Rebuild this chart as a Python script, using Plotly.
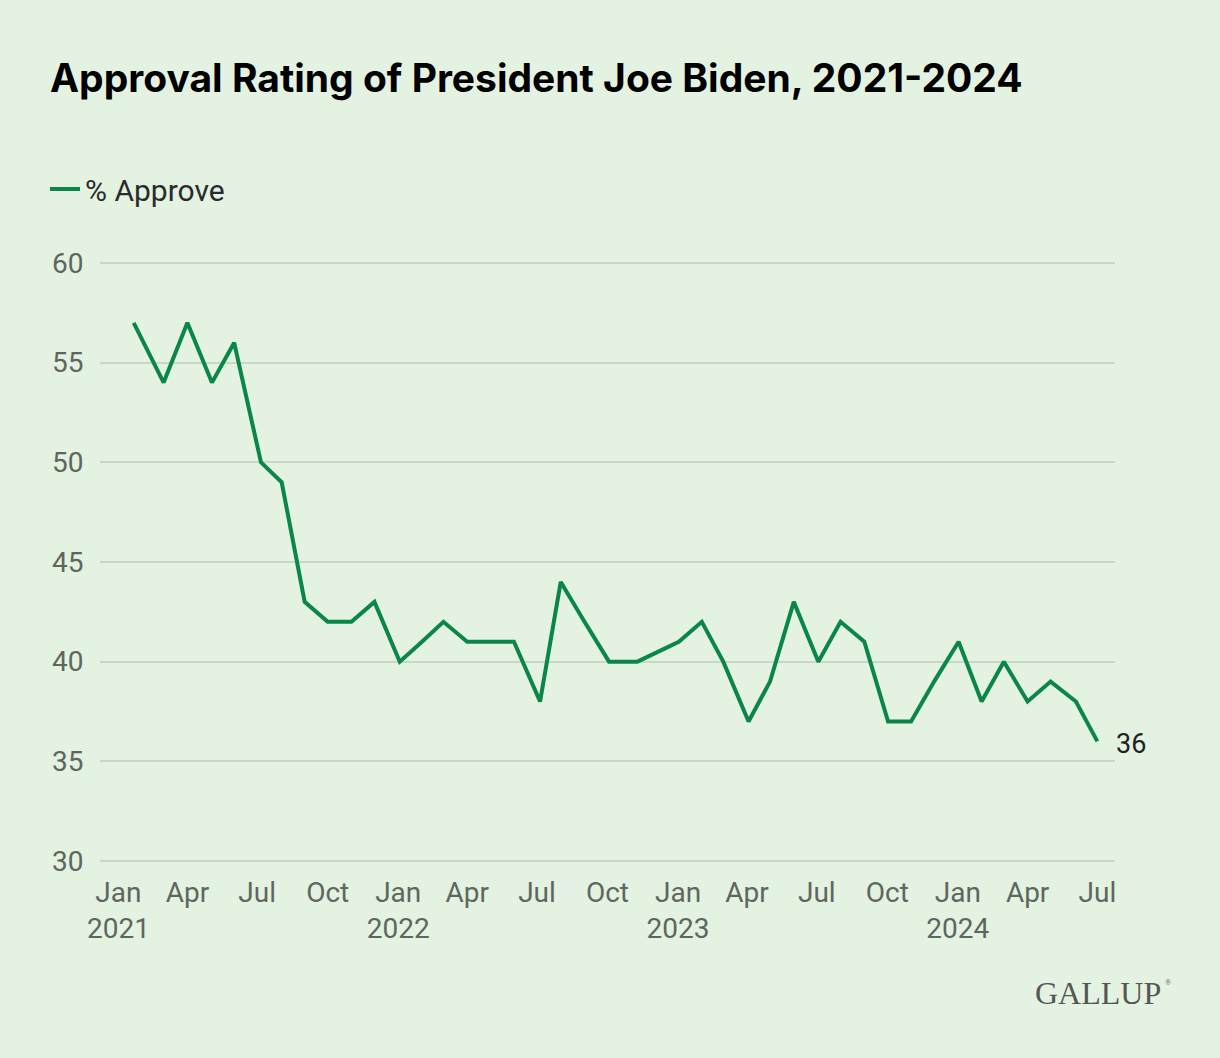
import plotly.graph_objects as go

dates = [
    "2021-01-21", "2021-03-01", "2021-04-01", "2021-05-03", "2021-06-01", "2021-07-06",
    "2021-08-02", "2021-09-01", "2021-10-01", "2021-11-01", "2021-12-01",
    "2022-01-03", "2022-02-01", "2022-03-01", "2022-04-01", "2022-05-02", "2022-06-01",
    "2022-07-05", "2022-08-01", "2022-09-01", "2022-10-03", "2022-11-09",
    "2023-01-02", "2023-02-01", "2023-03-01", "2023-04-03", "2023-05-01", "2023-06-01",
    "2023-07-03", "2023-08-01", "2023-09-01", "2023-10-02", "2023-11-01", "2023-12-01",
    "2024-01-02", "2024-02-01", "2024-03-01", "2024-04-01", "2024-05-01", "2024-06-03",
    "2024-07-01",
]
approve = [
    57, 54, 57, 54, 56, 50,
    49, 43, 42, 42, 43,
    40, 41, 42, 41, 41, 41,
    38, 44, 42, 40, 40,
    41, 42, 40, 37, 39, 43,
    40, 42, 41, 37, 37, 39,
    41, 38, 40, 38, 39, 38,
    36,
]

tick_vals = ["2021-01-01", "2021-04-01", "2021-07-01", "2021-10-01",
             "2022-01-01", "2022-04-01", "2022-07-01", "2022-10-01",
             "2023-01-01", "2023-04-01", "2023-07-01", "2023-10-01",
             "2024-01-01", "2024-04-01", "2024-07-01"]
tick_text = ["Jan<br>2021", "Apr", "Jul", "Oct",
             "Jan<br>2022", "Apr", "Jul", "Oct",
             "Jan<br>2023", "Apr", "Jul", "Oct",
             "Jan<br>2024", "Apr", "Jul"]
y_ticks = [30, 35, 40, 45, 50, 55, 60]

BG = "#e3f2e1"
GREEN = "#0a8748"
GRID = "#c8d8c6"
TICK = "#5f6660"
FONT = "Roboto"

fig = go.Figure()
fig.add_trace(go.Scatter(
    x=dates, y=approve, mode="lines", name="% Approve",
    line=dict(color=GREEN, width=4),
    hoverinfo="skip",
))

fig.add_annotation(
    x=dates[-1], y=approve[-1], text=str(approve[-1]), showarrow=False,
    xanchor="left", yanchor="middle", xshift=17, yshift=-3,
    font=dict(family=FONT, size=27, color="#222222"),
)

fig.add_annotation(
    xref="paper", yref="paper", x=1.0473, y=-0.2159,
    text="GALLUP", showarrow=False, xanchor="right", yanchor="middle",
    font=dict(family="Liberation Serif", size=32, color="#555555"),
)
fig.add_annotation(
    xref="paper", yref="paper", x=1.0473, y=-0.1993,
    text="®", showarrow=False, xanchor="left", yanchor="middle",
    font=dict(family="Liberation Serif", size=8, color="#555555"),
)

fig.update_layout(
    width=1220, height=1058,
    paper_bgcolor=BG, plot_bgcolor=BG,
    margin=dict(l=100, r=105, t=261, b=195),
    title=dict(
        text="<b>Approval Rating of President Joe Biden, 2021-2024</b>",
        x=50 / 1220, xanchor="left", xref="container",
        y=1 - 78 / 1058, yanchor="middle", yref="container",
        font=dict(family="Inter", size=39, color="#000000"),
    ),
    showlegend=True,
    legend=dict(
        orientation="h", xref="container", yref="container",
        x=45 / 1220, xanchor="left", y=1 - 189 / 1058, yanchor="middle",
        font=dict(family=FONT, size=30, color="#2b2b2b"),
        bgcolor="rgba(0,0,0,0)", itemwidth=30,
    ),
    font=dict(family=FONT),
)

fig.update_xaxes(
    type="date", range=["2020-12-08", "2024-07-24"],
    tickvals=tick_vals, ticktext=tick_text,
    showgrid=False, zeroline=False, showline=False,
    ticks="outside", ticklen=4, tickcolor="rgba(0,0,0,0)",
    tickfont=dict(family=FONT, size=28, color=TICK),
)
fig.update_yaxes(
    range=[29.9, 60.1], tickvals=y_ticks,
    showgrid=True, gridcolor=GRID, gridwidth=2, zeroline=False, showline=False,
    ticks="outside", ticklen=10, tickcolor="rgba(0,0,0,0)",
    tickfont=dict(family=FONT, size=28, color=TICK),
)

fig.write_html("out.html")
